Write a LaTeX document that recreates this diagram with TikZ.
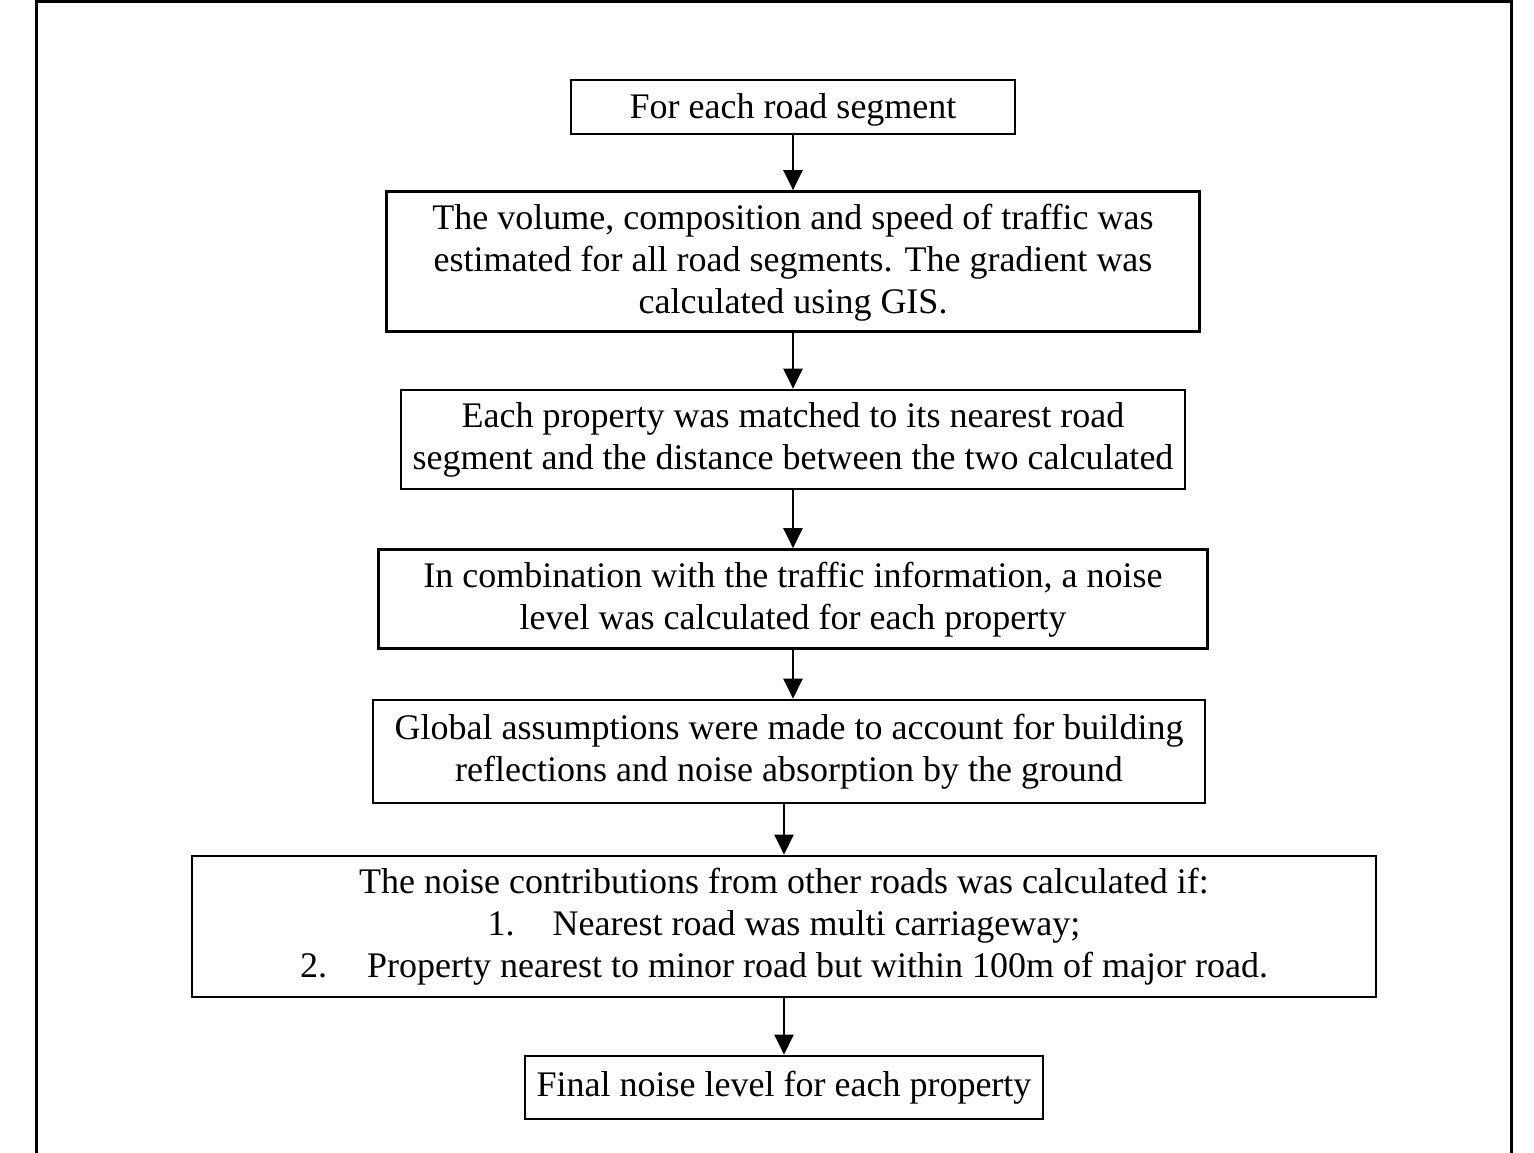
\documentclass[tikz,border=0pt]{standalone}
\usepackage{fontspec}
\setmainfont{Liberation Serif}
\usetikzlibrary{arrows.meta}
\begin{document}
\begin{tikzpicture}[x=0.5pt,y=-0.5pt,
  box/.style={draw, line width=1.35pt, inner sep=0pt, align=center,
    font=\fontsize{18}{21}\selectfont},
  arr/.style={line width=1.25pt, -{Triangle[length=10pt,width=9.5pt]}},
  frameline/.style={line width=1.5pt}]
\useasboundingbox (0,0) rectangle (1534,1152);
\draw[frameline] (36,1153) -- (36,1.4) -- (1511.5,1.4) -- (1511.5,1153);
\node[box, minimum width=222pt, minimum height=27pt] (b1) at (793,107)
  {\rule{0pt}{15.2pt}For each road segment};
\node[box, minimum width=406.5pt, minimum height=70pt] (b2) at (793,261.5)
  {\rule{0pt}{13.5pt}The volume, composition and speed of traffic was\\estimated for all road segments. The gradient was\\calculated using GIS.};
\node[box, minimum width=392pt, minimum height=49.5pt] (b3) at (793,439.5)
  {Each property was matched to its nearest road\\segment and the distance between the two calculated};
\node[box, minimum width=414.5pt, minimum height=49.5pt] (b4) at (793,599)
  {\rule{0pt}{13.5pt}In combination with the traffic information, a noise\\level was calculated for each property};
\node[box, minimum width=416pt, minimum height=51.5pt] (b5) at (789,751.5)
  {Global assumptions were made to account for building\\reflections and noise absorption by the ground};
\node[box, minimum width=592pt, minimum height=70.5pt] (b6) at (784,926.5)
  {The noise contributions from other roads was calculated if:\\1.\hspace{19pt}Nearest road was multi carriageway;\\2.\hspace{20pt}Property nearest to minor road but within 100m of major road.};
\node[box, minimum width=259pt, minimum height=31.5pt] (b7) at (784,1087.5)
  {Final noise level for each property};
\draw[arr] (b1) -- (b2);
\draw[arr] (b2) -- (b3);
\draw[arr] (b3) -- (b4);
\draw[arr] (b4.south) -- (b4.south |- b5.north);
\draw[arr] (b5.south -| b6.north) -- (b6.north);
\draw[arr] (b6) -- (b7);
\end{tikzpicture}
\end{document}
